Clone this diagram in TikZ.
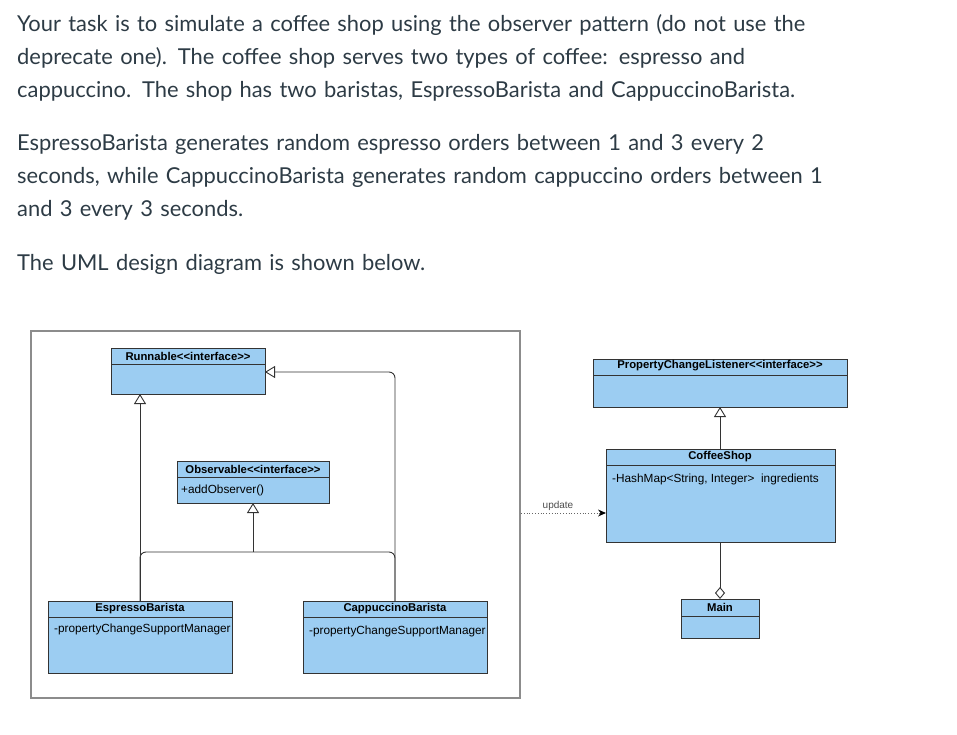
\documentclass[tikz,border=0pt]{standalone}
\usepackage{fontspec}
\setmainfont{Lato}
\newfontfamily\uml{Liberation Sans}
\usetikzlibrary{arrows.meta}
\definecolor{umlblue}{HTML}{9CCDF2}
\definecolor{txt}{HTML}{2D3B45}
\tikzset{
  box/.style={draw=black!80, fill=umlblue, line width=0.9pt},
  div/.style={draw=black!80, line width=0.7pt},
  title/.style={font=\uml\bfseries\fontsize{11.3}{12}\selectfont, inner sep=0pt},
  attr/.style={font=\uml\fontsize{11.8}{13}\selectfont, inner sep=0pt, anchor=west},
  para/.style={font=\fontsize{21.9}{33}\selectfont, text=txt, anchor=north west, inner sep=0pt, align=left, text width=935pt},
  inh/.style={draw=black!80, line width=0.9pt, -{Triangle[open, length=10pt, width=12pt]}, rounded corners=6pt},
}
\begin{document}
\begin{tikzpicture}[x=1pt,y=-1pt]
\useasboundingbox (0,0) rectangle (957,735);
\node[para] (p1) at (17,14) {Your task is to simulate a coffee shop using the observer pattern (do not use the\\deprecate one). The coffee shop serves two types of coffee: espresso and\\cappuccino. The shop has two baristas, EspressoBarista and CappuccinoBarista.};
\node[para] (p2) at (17,134) {EspressoBarista generates random espresso orders between 1 and 3 every 2\\seconds, while CappuccinoBarista generates random cappuccino orders between 1\\and 3 every 3 seconds.};
\node[para] (p3) at (17,254) {The UML design diagram is shown below.};
% frame
\draw[black!45, line width=1.2pt] (31,331) rectangle (520,698);
% Runnable
\draw[box] (111,348) rectangle (265,394); \draw[div] (111,364)--(265,364);
\node[title] (run) at (188,356) {Runnable<<interface>>};
\coordinate (runB) at (140,394); \coordinate (runR) at (265,372);
% Observable
\draw[box] (177,461) rectangle (329,503); \draw[div] (177,477)--(329,477);
\node[title] (obs) at (253,469) {Observable<<interface>>};
\node[attr] (obsA) at (181,490) {+addObserver()};
\coordinate (obsB) at (253,503);
% Espresso
\draw[box] (48,601) rectangle (232,673); \draw[div] (48,617)--(232,617);
\node[title] (esp) at (140,609) {EspressoBarista};
\node[attr] (espA) at (54,629) {-propertyChangeSupportManager};
\coordinate (espT) at (140,601);
% Cappuccino
\draw[box] (303,601) rectangle (487,673); \draw[div] (303,617)--(487,617);
\node[title] (cap) at (395,609) {CappuccinoBarista};
\node[attr] (capA) at (309,631) {-propertyChangeSupportManager};
\coordinate (capT) at (395,601);
% PCL
\draw[box] (593,359) rectangle (847,407); \draw[div] (593,375)--(847,375);
\node[title] (pcl) at (720,366) {PropertyChangeListener<<interface>>};
\coordinate (pclB) at (720,407);
% CoffeeShop
\draw[box] (606,449) rectangle (835,542); \draw[div] (606,465)--(835,465);
\node[title] (cs) at (720,457) {CoffeeShop};
\node[attr] (csA) at (612,479) {-HashMap<String, Integer>\ \ ingredients};
\coordinate (csT) at (720,449); \coordinate (csB) at (720,542); \coordinate (csL) at (606,513);
% Main
\draw[box] (681,599) rectangle (759,638); \draw[div] (681,616)--(759,616);
\node[title] (mn) at (720,607) {Main};
\coordinate (mnT) at (720,599);
% connectors
\draw[inh] (espT) -- (runB);
\draw[inh] (capT) -- (395,372) -- (runR);
\draw[draw=black!80, line width=0.9pt, rounded corners=6pt] (espT) -- (140,552) -- (395,552) -- (capT);
\draw[inh, rounded corners=0pt] (253,552) -- (obsB);
\draw[inh] (csT) -- (pclB);
\draw[draw=black!80, line width=0.9pt, -{Diamond[open, length=12pt, width=10pt]}] (csB) -- (mnT);
\coordinate (upS) at (521,513);
\draw[black!60, line width=0.8pt, dotted, -{Stealth[black, length=8pt, width=7pt, line width=0pt]}] (upS) -- (csL);
\node[font=\uml\fontsize{10}{11}\selectfont, text=black!70, inner sep=0pt] (upd) at (558,506) {update};
\end{tikzpicture}
\end{document}
